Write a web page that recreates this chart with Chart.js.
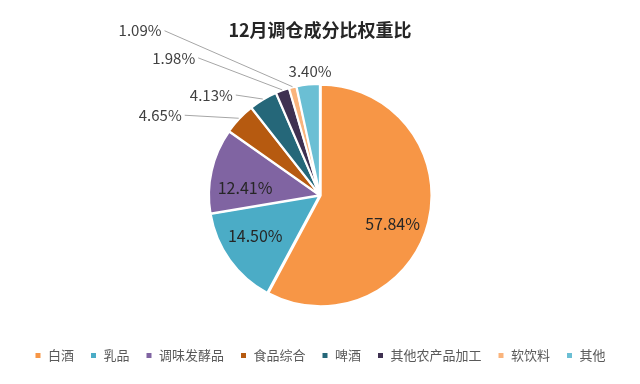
<!DOCTYPE html>
<html>
<head>
<meta charset="utf-8">
<script src="https://cdn.jsdelivr.net/npm/chart.js@4"></script>
<style>
  html,body{margin:0;padding:0;background:#fff;}
  #wrap{width:640px;height:384px;}
</style>
</head>
<body>
<div id="wrap"><canvas id="pie"></canvas></div>
<script>
// ===== data =====
const categories = ["白酒","乳品","调味发酵品","食品综合","啤酒","其他农产品加工","软饮料","其他"];
const weights    = [57.84, 14.50, 12.41, 4.65, 4.13, 1.98, 1.09, 3.40];
const colors     = ["#F79646","#4BACC6","#8064A2","#B65A10","#256779","#3F3151","#FAB47C","#6BBFD4"];

const FONT = "'Noto Sans CJK SC','Noto Sans',sans-serif";

// label placement: inside for big slices, leader lines for the small ones
// (offsets are nudges from the computed anchor point)
const labelMode = ["in","in","in","out","out","out","out","top"];
const labelOff  = [[0,10],[-4,-3],[-2,9],[-54,-3],[-27,-4],[-84,-32],[-128,-56],[2,-13]];

const pctLabels = {
  id:"pctLabels",
  afterDatasetsDraw(chart){
    const ctx = chart.ctx;
    const arcs = chart.getDatasetMeta(0).data;
    ctx.save();
    ctx.textBaseline = "middle";
    arcs.forEach((arc,i)=>{
      const p = arc.getProps(["x","y","startAngle","endAngle","outerRadius"],true);
      const mid = (p.startAngle+p.endAngle)/2;
      const txt = weights[i].toFixed(2)+"%";
      const [dx,dy] = labelOff[i];
      if(labelMode[i]==="in"){
        const r = p.outerRadius*0.68;
        ctx.font = "16px " + FONT;
        ctx.fillStyle = "#262626";
        ctx.textAlign = "center";
        ctx.fillText(txt, p.x+Math.cos(mid)*r+dx, p.y+Math.sin(mid)*r+dy);
        return;
      }
      ctx.font = "15px " + FONT;
      const ex = p.x+Math.cos(mid)*(p.outerRadius+2);
      const ey = p.y+Math.sin(mid)*(p.outerRadius+2);
      if(labelMode[i]==="top"){
        ctx.fillStyle = "#404040";
        ctx.textAlign = "center";
        ctx.fillText(txt, ex+dx, ey+dy);
        return;
      }
      ctx.strokeStyle = "#A6A6A6";
      ctx.lineWidth = 1;
      ctx.beginPath();
      ctx.moveTo(ex,ey);
      ctx.lineTo(ex+dx,ey+dy);
      ctx.stroke();
      ctx.fillStyle = "#404040";
      ctx.textAlign = "right";
      ctx.fillText(txt, ex+dx-3, ey+dy);
    });
    ctx.restore();
  }
};

new Chart(document.getElementById("pie"),{
  type:"pie",
  data:{
    labels:categories,
    datasets:[{
      data:weights,
      backgroundColor:colors,
      borderColor:"#ffffff",
      borderWidth:2,
      offset:3
    }]
  },
  options:{
    responsive:true,
    maintainAspectRatio:false,
    animation:false,
    radius:110,
    layout:{padding:{top:0,bottom:12,left:0,right:0}},
    plugins:{
      title:{
        display:true,
        text:"12月调仓成分比权重比",
        color:"#262626",
        font:{family:FONT,size:18,weight:"bold"},
        padding:{top:19,bottom:17}
      },
      legend:{
        position:"bottom",
        labels:{
          usePointStyle:true,
          pointStyle:"rect",
          boxWidth:7,
          boxHeight:7,
          padding:16,
          color:"#595959",
          font:{family:FONT,size:13}
        }
      },
      tooltip:{enabled:false}
    }
  },
  plugins:[pctLabels]
});
</script>
</body>
</html>
